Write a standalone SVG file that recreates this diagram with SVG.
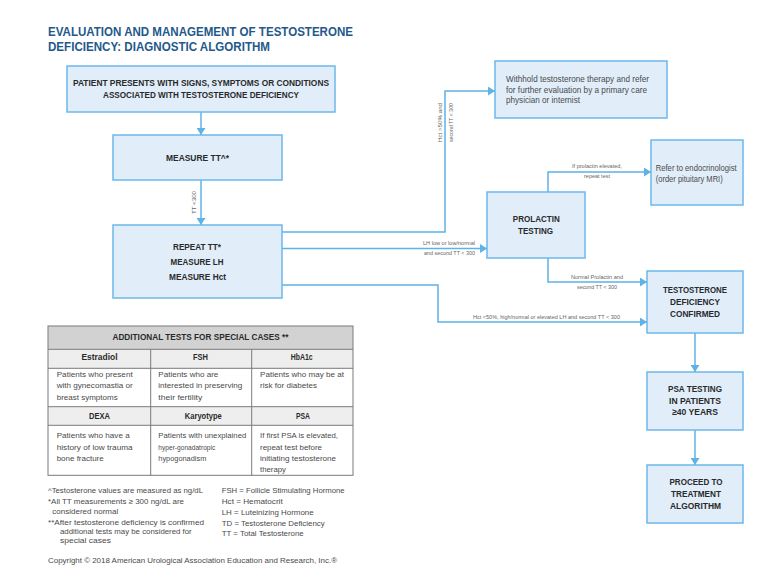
<svg xmlns="http://www.w3.org/2000/svg" width="768" height="576" viewBox="0 0 768 576">
<defs>
<style>
.box{fill:#e1eefa;stroke:#6cb8ea;stroke-width:1.5}
.t{font-family:"Liberation Sans",Arial,sans-serif}
.title{font-size:13.5px;font-weight:bold;fill:#23598a}
.b{font-size:9.2px;font-weight:bold;fill:#2a2a2a;text-anchor:middle}
.n{font-size:9.8px;fill:#4a4a4a}
.s{font-size:5.9px;fill:#666}
.sm{text-anchor:middle}
.th{font-size:8.4px;font-weight:bold;fill:#2a2a2a;text-anchor:middle}
.tb{font-size:8.1px;fill:#4a4a4a}
.fn{font-size:7.7px;fill:#4a4a4a}
.con{fill:none;stroke:#5eb3e6;stroke-width:1.5}
.grid{fill:none;stroke:#7a7a7a;stroke-width:1}
</style>
<marker id="ah" markerUnits="userSpaceOnUse" markerWidth="8" markerHeight="9" refX="7" refY="4.5" orient="auto">
<path d="M0,0 L7,4.5 L0,9 Z" fill="#5eb3e6"/>
</marker>
</defs>
<rect width="768" height="576" fill="#ffffff"/>

<g id="title" class="t title">
<text x="48" y="35.5" textLength="305" lengthAdjust="spacingAndGlyphs">EVALUATION AND MANAGEMENT OF TESTOSTERONE</text>
<text x="48" y="51" textLength="222" lengthAdjust="spacingAndGlyphs">DEFICIENCY: DIAGNOSTIC ALGORITHM</text>
</g>

<g id="connectors">
<path class="con" d="M201,112 V135" marker-end="url(#ah)"/>
<path class="con" d="M201,180 V225" marker-end="url(#ah)"/>
<path class="con" d="M282,232 H445 V91 H495" marker-end="url(#ah)"/>
<path class="con" d="M282,248.5 H487" marker-end="url(#ah)"/>
<path class="con" d="M282,285 H438 V322 H647" marker-end="url(#ah)"/>
<path class="con" d="M548,192 V172 H651" marker-end="url(#ah)"/>
<path class="con" d="M548,258 V282 H647" marker-end="url(#ah)"/>
<path class="con" d="M695,333 V372" marker-end="url(#ah)"/>
<path class="con" d="M695,430 V465" marker-end="url(#ah)"/>
<g class="t s">
<text class="sm" transform="translate(196,202.5) rotate(-90)" textLength="23" lengthAdjust="spacingAndGlyphs">TT &lt;300</text>
<text class="sm" transform="translate(441.5,122.5) rotate(-90)" textLength="39" lengthAdjust="spacingAndGlyphs">Hct &gt;50% and</text>
<text class="sm" transform="translate(452.5,122.5) rotate(-90)" textLength="39" lengthAdjust="spacingAndGlyphs">second TT &lt; 300</text>
<text x="475" y="245" text-anchor="end" textLength="52" lengthAdjust="spacingAndGlyphs">LH low or low/normal</text>
<text x="475" y="255" text-anchor="end" textLength="51" lengthAdjust="spacingAndGlyphs">and second TT &lt; 300</text>
<text class="sm" x="546.5" y="319" textLength="147" lengthAdjust="spacingAndGlyphs">Hct &lt;50%, high/normal or elevated LH and second TT &lt; 300</text>
<text class="sm" x="597" y="167.5" textLength="50" lengthAdjust="spacingAndGlyphs">If prolactin elevated,</text>
<text class="sm" x="597" y="177.8" textLength="26" lengthAdjust="spacingAndGlyphs">repeat test</text>
<text class="sm" x="597" y="278.5" textLength="52" lengthAdjust="spacingAndGlyphs">Normal Prolactin and</text>
<text class="sm" x="597" y="288.5" textLength="40" lengthAdjust="spacingAndGlyphs">second TT &lt; 300</text>
</g>
</g>

<g id="n-patient">
<rect class="box" x="67" y="66" width="268" height="46"/>
<text class="t b" x="201" y="85.9" textLength="256" lengthAdjust="spacingAndGlyphs">PATIENT PRESENTS WITH SIGNS, SYMPTOMS OR CONDITIONS</text>
<text class="t b" x="201" y="98.2" textLength="196" lengthAdjust="spacingAndGlyphs">ASSOCIATED WITH TESTOSTERONE DEFICIENCY</text>
</g>

<g id="n-measure">
<rect class="box" x="113" y="135" width="169" height="45"/>
<text class="t b" x="197.5" y="161.2" textLength="63" lengthAdjust="spacingAndGlyphs">MEASURE TT^*</text>
</g>

<g id="n-repeat">
<rect class="box" x="113" y="225" width="169" height="73"/>
<text class="t b" x="197" y="249.9" textLength="48" lengthAdjust="spacingAndGlyphs">REPEAT TT*</text>
<text class="t b" x="197" y="264.5" textLength="53" lengthAdjust="spacingAndGlyphs">MEASURE LH</text>
<text class="t b" x="197.5" y="279.9" textLength="57" lengthAdjust="spacingAndGlyphs">MEASURE Hct</text>
</g>

<g id="n-withhold">
<rect class="box" x="495" y="61" width="172" height="57"/>
<text class="t n" x="506" y="82.3" textLength="143" lengthAdjust="spacingAndGlyphs">Withhold testosterone therapy and refer</text>
<text class="t n" x="506" y="92.6" textLength="141" lengthAdjust="spacingAndGlyphs">for further evaluation by a primary care</text>
<text class="t n" x="506" y="103" textLength="74" lengthAdjust="spacingAndGlyphs">physician or internist</text>
</g>

<g id="n-prolactin">
<rect class="box" x="487" y="192" width="98" height="66"/>
<text class="t b" x="536.3" y="222.2" textLength="47" lengthAdjust="spacingAndGlyphs">PROLACTIN</text>
<text class="t b" x="535.5" y="234.2" textLength="35" lengthAdjust="spacingAndGlyphs">TESTING</text>
</g>

<g id="n-endo">
<rect class="box" x="651" y="140" width="92" height="65"/>
<text class="t n" x="655.7" y="170.6" textLength="81" lengthAdjust="spacingAndGlyphs">Refer to endocrinologist</text>
<text class="t n" x="655.7" y="181.6" textLength="67" lengthAdjust="spacingAndGlyphs">(order pituitary MRI)</text>
</g>

<g id="n-td">
<rect class="box" x="647" y="271" width="96" height="62"/>
<text class="t b" x="695" y="292.5" textLength="64" lengthAdjust="spacingAndGlyphs">TESTOSTERONE</text>
<text class="t b" x="695" y="304.9" textLength="50" lengthAdjust="spacingAndGlyphs">DEFICIENCY</text>
<text class="t b" x="695" y="316.5" textLength="50" lengthAdjust="spacingAndGlyphs">CONFIRMED</text>
</g>

<g id="n-psa">
<rect class="box" x="647" y="372" width="96" height="58"/>
<text class="t b" x="695" y="391.9" textLength="54" lengthAdjust="spacingAndGlyphs">PSA TESTING</text>
<text class="t b" x="695" y="403.9" textLength="52" lengthAdjust="spacingAndGlyphs">IN PATIENTS</text>
<text class="t b" x="695" y="415.2" textLength="46" lengthAdjust="spacingAndGlyphs">≥40 YEARS</text>
</g>

<g id="n-proceed">
<rect class="box" x="647" y="465" width="96" height="58"/>
<text class="t b" x="696" y="484.9" textLength="53" lengthAdjust="spacingAndGlyphs">PROCEED TO</text>
<text class="t b" x="696" y="496.9" textLength="50" lengthAdjust="spacingAndGlyphs">TREATMENT</text>
<text class="t b" x="695.5" y="508.9" textLength="51" lengthAdjust="spacingAndGlyphs">ALGORITHM</text>
</g>

<g id="table">
<rect x="48" y="326" width="305" height="23.3" fill="#d2d2d2"/>
<rect x="48" y="349.3" width="305" height="19" fill="#eeeeee"/>
<rect x="48" y="406.7" width="305" height="18.6" fill="#eeeeee"/>
<rect class="grid" x="48" y="326" width="305" height="149.3"/>
<path class="grid" d="M48,349.3 H353 M48,368.3 H353 M48,406.7 H353 M48,425.3 H353 M150.7,349.3 V475.3 M251.7,349.3 V475.3"/>
<text class="t th" x="200.5" y="340.4" textLength="176" lengthAdjust="spacingAndGlyphs">ADDITIONAL TESTS FOR SPECIAL CASES **</text>
<text class="t th" x="99.5" y="360.3" textLength="36" lengthAdjust="spacingAndGlyphs">Estradiol</text>
<text class="t th" x="200.5" y="360.3" textLength="15" lengthAdjust="spacingAndGlyphs">FSH</text>
<text class="t th" x="301.7" y="360.3" textLength="22" lengthAdjust="spacingAndGlyphs">HbA1c</text>
<text class="t th" x="99.5" y="418.9" textLength="21" lengthAdjust="spacingAndGlyphs">DEXA</text>
<text class="t th" x="203.3" y="418.9" textLength="37" lengthAdjust="spacingAndGlyphs">Karyotype</text>
<text class="t th" x="303" y="418.9" textLength="14" lengthAdjust="spacingAndGlyphs">PSA</text>
<g class="t tb">
<text x="56.7" y="377.2" textLength="76" lengthAdjust="spacingAndGlyphs">Patients who present</text>
<text x="56.7" y="388.2" textLength="76" lengthAdjust="spacingAndGlyphs">with gynecomastia or</text>
<text x="56.7" y="399.5" textLength="61" lengthAdjust="spacingAndGlyphs">breast symptoms</text>
<text x="158.3" y="377.2" textLength="60" lengthAdjust="spacingAndGlyphs">Patients who are</text>
<text x="158.3" y="388.2" textLength="84" lengthAdjust="spacingAndGlyphs">interested in preserving</text>
<text x="158.3" y="399.5" textLength="44" lengthAdjust="spacingAndGlyphs">their fertility</text>
<text x="260" y="377.2" textLength="84" lengthAdjust="spacingAndGlyphs">Patients who may be at</text>
<text x="260" y="388.2" textLength="57" lengthAdjust="spacingAndGlyphs">risk for diabetes</text>
<text x="56.7" y="438.2" textLength="73" lengthAdjust="spacingAndGlyphs">Patients who have a</text>
<text x="56.7" y="449.5" textLength="76" lengthAdjust="spacingAndGlyphs">history of low trauma</text>
<text x="56.7" y="460.5" textLength="47" lengthAdjust="spacingAndGlyphs">bone fracture</text>
<text x="158.3" y="438.2" textLength="88" lengthAdjust="spacingAndGlyphs">Patients with unexplained</text>
<text x="158.3" y="449.5" textLength="57" lengthAdjust="spacingAndGlyphs">hyper-gonadatropic</text>
<text x="158.3" y="460.5" textLength="48" lengthAdjust="spacingAndGlyphs">hypogonadism</text>
<text x="260" y="438.2" textLength="78" lengthAdjust="spacingAndGlyphs">If first PSA is elevated,</text>
<text x="260" y="449.5" textLength="62" lengthAdjust="spacingAndGlyphs">repeat test before</text>
<text x="260" y="460.5" textLength="76" lengthAdjust="spacingAndGlyphs">initiating testosterone</text>
<text x="260" y="471.7" textLength="26" lengthAdjust="spacingAndGlyphs">therapy</text>
</g>
</g>

<g id="footnotes" class="t fn">
<text x="48" y="493.4" textLength="155" lengthAdjust="spacingAndGlyphs">^Testosterone values are measured as ng/dL</text>
<text x="48" y="504.4" textLength="136" lengthAdjust="spacingAndGlyphs">*All TT measurements ≥ 300 ng/dL are</text>
<text x="52.3" y="514.1" textLength="66" lengthAdjust="spacingAndGlyphs">considered normal</text>
<text x="48" y="525.1" textLength="156" lengthAdjust="spacingAndGlyphs">**After testosterone deficiency is confirmed</text>
<text x="60" y="533.8" textLength="131.7" lengthAdjust="spacingAndGlyphs">additional tests may be considered for</text>
<text x="60" y="542.8" textLength="51" lengthAdjust="spacingAndGlyphs">special cases</text>
<text x="221.7" y="493.4" textLength="123" lengthAdjust="spacingAndGlyphs">FSH = Follicle Stimulating Hormone</text>
<text x="221.7" y="504.4" textLength="61" lengthAdjust="spacingAndGlyphs">Hct = Hematocrit</text>
<text x="221.7" y="515.4" textLength="92" lengthAdjust="spacingAndGlyphs">LH = Luteinizing Hormone</text>
<text x="221.7" y="526.4" textLength="103" lengthAdjust="spacingAndGlyphs">TD = Testosterone Deficiency</text>
<text x="221.7" y="536.1" textLength="82" lengthAdjust="spacingAndGlyphs">TT = Total Testosterone</text>
<text x="48" y="562.8" textLength="289" lengthAdjust="spacingAndGlyphs">Copyright © 2018 American Urological Association Education and Research, Inc.®</text>
</g>
</svg>
